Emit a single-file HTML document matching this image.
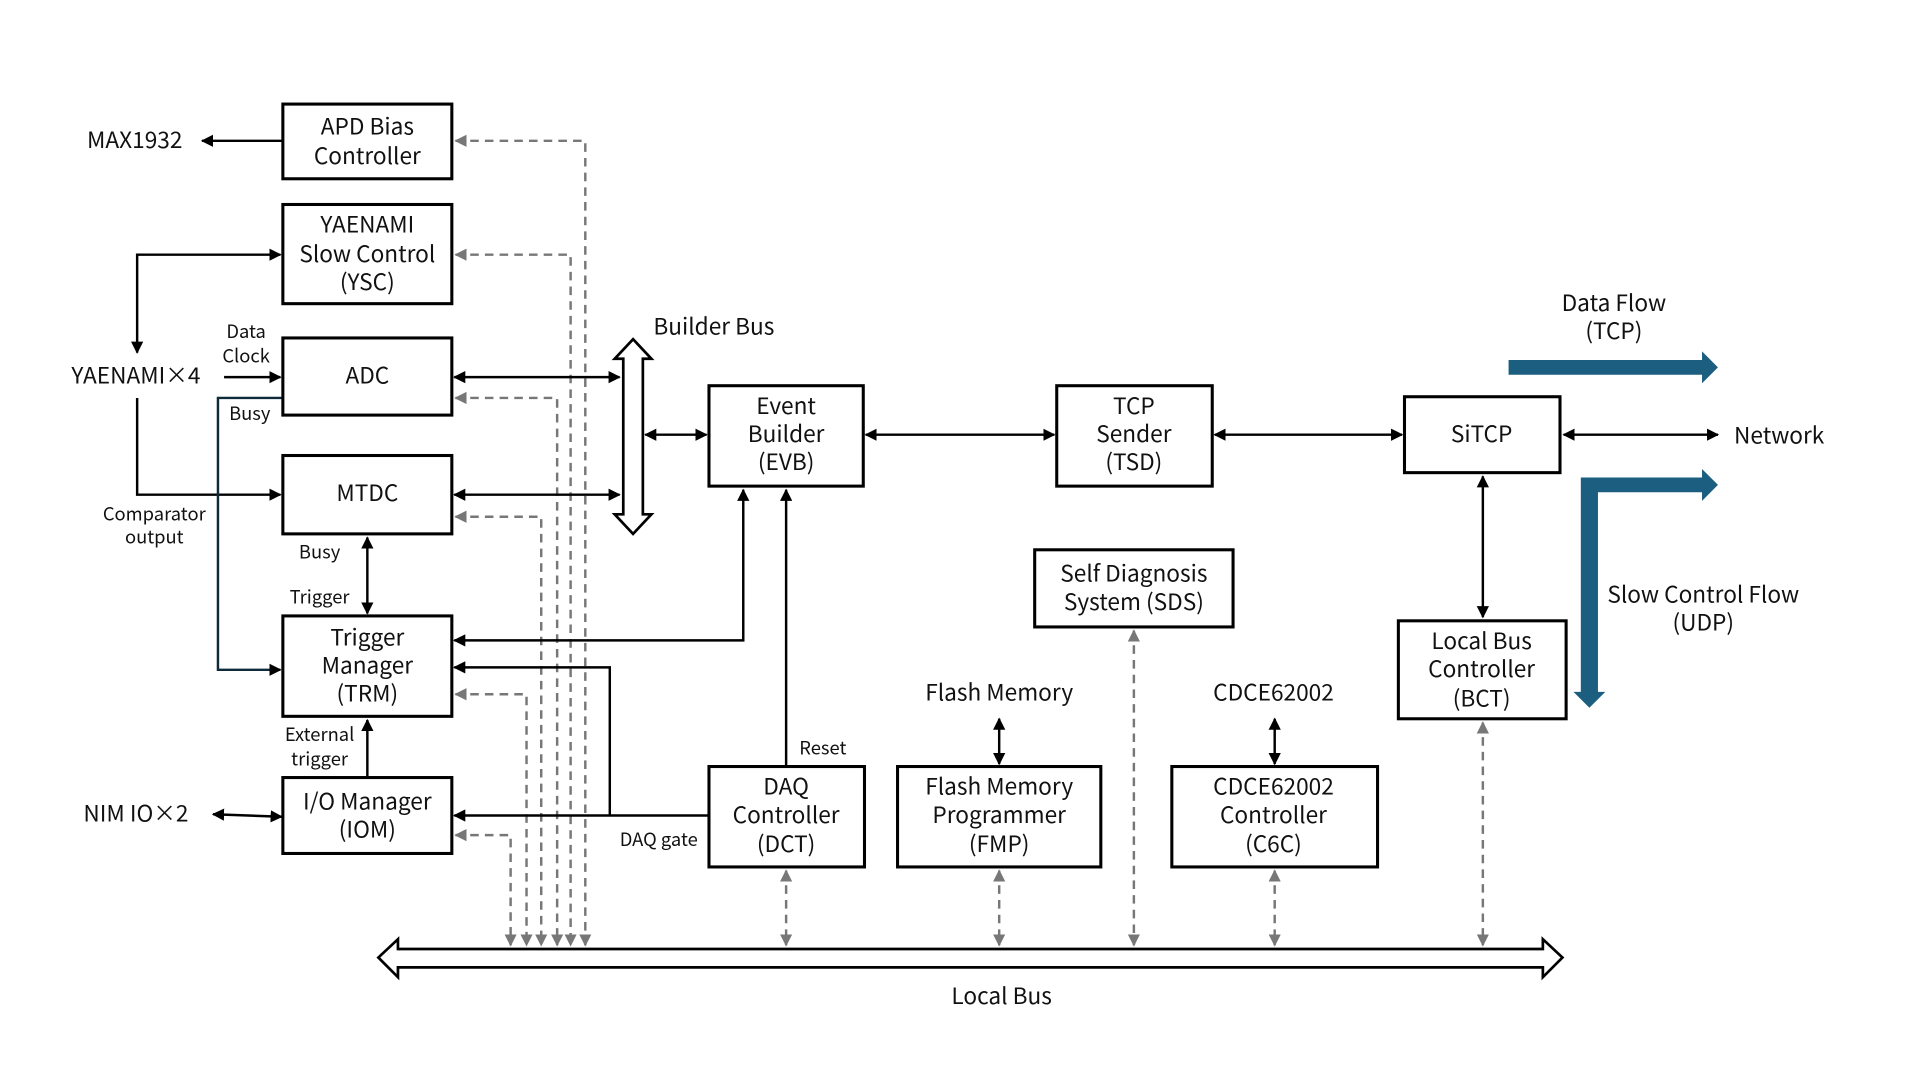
<!DOCTYPE html>
<html><head><meta charset="utf-8"><style>
html,body{margin:0;padding:0;background:#fff;}
svg{display:block;}
text{font-family:"Noto Sans CJK JP","Liberation Sans",sans-serif;fill:#111;text-anchor:middle;}
.b{fill:#fff;stroke:#000;stroke-width:2.5;}
.s{stroke:#000;stroke-width:2;fill:none;}
.d{stroke:#777;stroke-width:2;fill:none;stroke-dasharray:7,5;}
.t{font-size:18.5px;}
.sm{font-size:15px;}
</style></head><body>
<svg width="1920" height="1080" viewBox="0 0 1568 882" preserveAspectRatio="xMinYMin meet" xmlns="http://www.w3.org/2000/svg">
<defs>
<marker id="a" viewBox="0 0 10 10" refX="9" refY="5" markerWidth="5" markerHeight="5" orient="auto-start-reverse"><path d="M0,0L10,5L0,10z" fill="#000"/></marker>
<marker id="g" viewBox="0 0 10 10" refX="9" refY="5" markerWidth="5" markerHeight="5" orient="auto-start-reverse"><path d="M0,0L10,5L0,10z" fill="#777"/></marker>
</defs>

<path class="d" d="M372,115H478V772" marker-start="url(#g)" marker-end="url(#g)"/>
<path class="d" d="M372,208H466V772" marker-start="url(#g)" marker-end="url(#g)"/>
<path class="d" d="M372,325H455V772" marker-start="url(#g)" marker-end="url(#g)"/>
<path class="d" d="M372,422H442V772" marker-start="url(#g)" marker-end="url(#g)"/>
<path class="d" d="M372,567H430V772" marker-start="url(#g)" marker-end="url(#g)"/>
<path class="d" d="M372,682H417V772" marker-start="url(#g)" marker-end="url(#g)"/>
<path class="d" d="M642,711V772" marker-start="url(#g)" marker-end="url(#g)"/>
<path class="d" d="M816,711V772" marker-start="url(#g)" marker-end="url(#g)"/>
<path class="d" d="M926,515V772" marker-start="url(#g)" marker-end="url(#g)"/>
<path class="d" d="M1041,711V772" marker-start="url(#g)" marker-end="url(#g)"/>
<path class="d" d="M1211,590V772" marker-start="url(#g)" marker-end="url(#g)"/>

<path class="s" d="M230,115H165" marker-end="url(#a)"/>
<path class="s" d="M112,288V208H229" marker-start="url(#a)" marker-end="url(#a)"/>
<path class="s" d="M183,308H229" marker-end="url(#a)"/>
<path class="s" d="M112,325V404H229" marker-end="url(#a)"/>
<path d="M231,325H178V547H229" fill="none" stroke="#0f2a3a" stroke-width="2" marker-end="url(#a)"/>
<path class="s" d="M371,308H506" marker-start="url(#a)" marker-end="url(#a)"/>
<path class="s" d="M371,404H506" marker-start="url(#a)" marker-end="url(#a)"/>
<path class="s" d="M527,355H577" marker-start="url(#a)" marker-end="url(#a)"/>
<path class="s" d="M707,355H861" marker-start="url(#a)" marker-end="url(#a)"/>
<path class="s" d="M992,355H1145" marker-start="url(#a)" marker-end="url(#a)"/>
<path class="s" d="M1277,355H1403" marker-start="url(#a)" marker-end="url(#a)"/>
<path class="s" d="M1211,389V504" marker-start="url(#a)" marker-end="url(#a)"/>
<path class="s" d="M300,439V501" marker-start="url(#a)" marker-end="url(#a)"/>
<path class="s" d="M607,400V523H371" marker-start="url(#a)" marker-end="url(#a)"/>
<path class="s" d="M642,626V400" marker-end="url(#a)"/>
<path class="s" d="M579,666H371" marker-end="url(#a)"/>
<path class="s" d="M498,666V545H371" marker-end="url(#a)"/>
<path class="s" d="M300,634V588" marker-end="url(#a)"/>
<path class="s" d="M230,667L174,665" marker-start="url(#a)" marker-end="url(#a)"/>
<path class="s" d="M816,587V624" marker-start="url(#a)" marker-end="url(#a)"/>
<path class="s" d="M1041,587V624" marker-start="url(#a)" marker-end="url(#a)"/>

<path d="M517,277L532,293H525V420H532L517,436L502,420H509V293H502Z" fill="#fff" stroke="#000" stroke-width="2.2"/>
<path d="M309,782L325,767V775H1260V767L1276,782L1260,798V790H325V798Z" fill="#fff" stroke="#000" stroke-width="2.2"/>

<path d="M1232,294H1390V287L1403,300L1390,313V306H1232Z" fill="#1b5e80"/>
<path d="M1291,577V390H1390V383L1403,396L1390,409V402H1305V565H1311L1298,578L1285,565H1291Z" fill="#1b5e80"/>

<rect class="b" x="231" y="85" width="138" height="61"/>
<rect class="b" x="231" y="167" width="138" height="81"/>
<rect class="b" x="231" y="276" width="138" height="63"/>
<rect class="b" x="231" y="372" width="138" height="64"/>
<rect class="b" x="231" y="503" width="138" height="82"/>
<rect class="b" x="231" y="635" width="138" height="62"/>
<rect class="b" x="579" y="315" width="126" height="82"/>
<rect class="b" x="863" y="315" width="127" height="82"/>
<rect class="b" x="1147" y="324" width="127" height="62"/>
<rect class="b" x="845" y="449" width="162" height="63"/>
<rect class="b" x="1142" y="507" width="137" height="80"/>
<rect class="b" x="579" y="626" width="127" height="82"/>
<rect class="b" x="733" y="626" width="166" height="82"/>
<rect class="b" x="957" y="626" width="168" height="82"/>

<g class="t">
<text x="300" y="110">APD Bias</text><text x="300" y="134">Controller</text>
<text x="300" y="190">YAENAMI</text><text x="300" y="214">Slow Control</text><text x="300" y="237">(YSC)</text>
<text x="300" y="313">ADC</text>
<text x="300" y="409">MTDC</text>
<text x="300" y="527">Trigger</text><text x="300" y="550">Manager</text><text x="300" y="573">(TRM)</text>
<text x="300" y="661">I/O Manager</text><text x="300" y="684">(IOM)</text>
<text x="642" y="338">Event</text><text x="642" y="361">Builder</text><text x="642" y="384">(EVB)</text>
<text x="926" y="338">TCP</text><text x="926" y="361">Sender</text><text x="926" y="384">(TSD)</text>
<text x="1210" y="361">SiTCP</text>
<text x="926" y="475">Self Diagnosis</text><text x="926" y="498">System (SDS)</text>
<text x="1210" y="530">Local Bus</text><text x="1210" y="553">Controller</text><text x="1210" y="577">(BCT)</text>
<text x="642" y="649">DAQ</text><text x="642" y="672">Controller</text><text x="642" y="696">(DCT)</text>
<text x="816" y="649">Flash Memory</text><text x="816" y="672">Programmer</text><text x="816" y="696">(FMP)</text>
<text x="1040" y="649">CDCE62002</text><text x="1040" y="672">Controller</text><text x="1040" y="696">(C6C)</text>
<text x="110" y="121">MAX1932</text>
<text x="111" y="313">YAENAMI×4</text>
<text x="111" y="671">NIM IO×2</text>
<text x="1453" y="362">Network</text>
<text x="583" y="273">Builder Bus</text>
<text x="818" y="820">Local Bus</text>
<text x="816" y="572">Flash Memory</text>
<text x="1040" y="572">CDCE62002</text>
<text x="1318" y="254">Data Flow</text><text x="1318" y="277">(TCP)</text>
<text x="1391" y="492">Slow Control Flow</text><text x="1391" y="515">(UDP)</text>
</g>
<g class="sm">
<text x="201" y="276">Data</text><text x="201" y="296">Clock</text>
<text x="204" y="343">Busy</text>
<text x="126" y="425">Comparator</text><text x="126" y="444">output</text>
<text x="261" y="456">Busy</text>
<text x="261" y="493">Trigger</text>
<text x="261" y="605">External</text><text x="261" y="625">trigger</text>
<text x="672" y="616">Reset</text>
<text x="538" y="691">DAQ gate</text>
</g>
</svg>
</body></html>
